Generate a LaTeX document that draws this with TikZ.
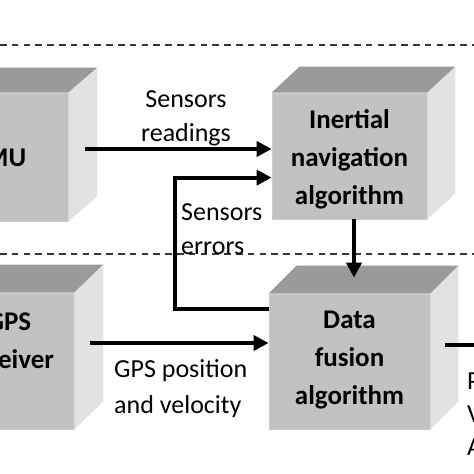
\documentclass[tikz,border=0pt]{standalone}
\usepackage{fontspec}
\setmainfont{Carlito}
\usetikzlibrary{arrows.meta}
\definecolor{frontc}{RGB}{194,194,194}
\definecolor{topc}{RGB}{154,154,154}
\definecolor{sidec}{RGB}{226,226,226}
\definecolor{sepc}{RGB}{55,55,55}
\newcommand\cubefaces[3]{%
  \fill[topc] (#1.north west) -- ++(#2,-#3) -- ([shift={(#2,-#3)}]#1.north east) -- (#1.north east) -- cycle;
  \fill[sidec] (#1.north east) -- ([shift={(#2,-#3)}]#1.north east) -- ([shift={(#2,-#3)}]#1.south east) -- (#1.south east) -- cycle;
}
\tikzset{
  face/.style={inner sep=0pt, fill=frontc, draw=frontc!85!white, line width=0.8pt,
    font=\fontsize{27}{38}\selectfont\bfseries, align=center},
  boxtext/.style={inner sep=0pt, font=\fontsize{27}{38}\selectfont\bfseries, align=center},
  lbl/.style={inner sep=0pt, font=\fontsize{26}{34}\selectfont},
  arr/.style={line width=4pt, -{Triangle[length=15pt,width=15pt]}},
  ln/.style={line width=4pt},
  sep/.style={line width=2pt, draw=sepc, dash pattern=on 6.5pt off 5.3pt},
}
\begin{document}
\begin{tikzpicture}[x=1pt,y=-1pt]
\useasboundingbox (0,0) rectangle (474,474);
\clip (0,0) rectangle (474,474);
\fill[white] (0,0) rectangle (474,474);
% separators
\coordinate (d1a) at (0,45);
\coordinate (d1b) at (474,45);
\coordinate (d2a) at (0,254);
\coordinate (d2b) at (474,254);
\draw[sep] (d1a) -- (d1b);
\draw[sep] (d2a) -- (d2b);
% boxes
\node[face, minimum width=150pt, minimum height=128pt] (imu) at (-7,157) {};
\cubefaces{imu}{29}{25}
\node[boxtext] (imut) at (2,158) {IMU};
\node[face, minimum width=155pt, minimum height=126pt] (ins) at (349.5,156) {};
\cubefaces{ins}{28}{26}
\node[boxtext] (inst) at (349.5,159) {Inertial\\navigation\\algorithm};
\node[face, minimum width=128pt, minimum height=136pt] (gps) at (10,361) {};
\cubefaces{gps}{29}{28}
\node[boxtext] (gpst) at (9,341) {GPS\\receiver};
\node[face, minimum width=161pt, minimum height=135pt] (fus) at (349.5,361.5) {};
\cubefaces{fus}{28}{28}
\node[boxtext] (fust) at (349.5,360) {Data\\fusion\\algorithm};
% connectors
\coordinate (imuout) at (85,149);
\draw[arr] (imuout) -- (imuout -| ins.west);
\coordinate (fbx) at (175,240);
\draw[arr] ([shift={(0,15)}]fus.north west) -| (fbx) |- ([shift={(0,85)}]ins.north west);
\draw[arr] ([shift={(4.5,0)}]ins.south) -- ([shift={(4.5,-16)}]fus.north);
\coordinate (gpsout) at (90,343);
\draw[arr] (gpsout) -- (gpsout -| fus.west);
\coordinate (fusout) at (445,345);
\coordinate (outend) at (480,345);
\draw[ln] (fusout) -- (outend);
% labels
\node[lbl, align=center] (l1) at (186,118) {Sensors\\readings};
\node[lbl, align=left, anchor=west] (l2) at (181,229) {Sensors\\errors};
\node[lbl, align=left, anchor=west, font=\fontsize{26}{36}\selectfont] (l3) at (114,389) {GPS position\\and velocity};
\node[lbl, align=left, anchor=west, font=\fontsize{26}{33}\selectfont] (l4) at (467,414) {Position\\Velocity\\Attitude};
\end{tikzpicture}
\end{document}
